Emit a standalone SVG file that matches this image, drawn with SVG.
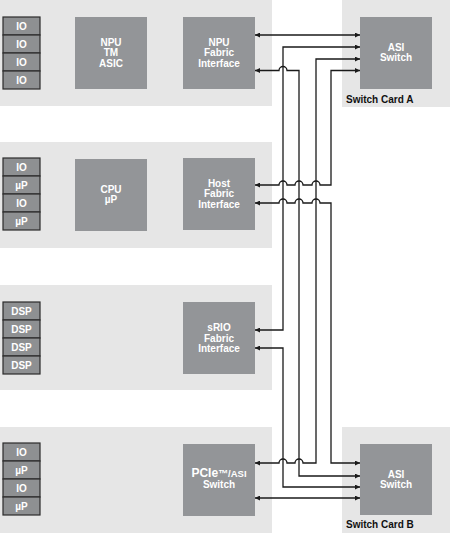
<svg xmlns="http://www.w3.org/2000/svg" width="450" height="533" viewBox="0 0 450 533">
<defs>
<marker id="arr" viewBox="0 0 10 10" refX="10" refY="5" markerWidth="5" markerHeight="5" markerUnits="userSpaceOnUse" orient="auto-start-reverse">
<path d="M0,0 L10,5 L0,10 z" fill="#1a1a1a"/>
</marker>
<style>
.panel{fill:#e6e6e6}
.box{fill:#939598}
.cell{fill:#8e9092;stroke:#2b2b2b;stroke-width:1.2}
.t{font-family:"Liberation Sans",Arial,sans-serif;font-weight:bold;font-size:10px;fill:#ffffff;text-anchor:middle}
.lbl{font-family:"Liberation Sans",Arial,sans-serif;font-weight:bold;font-size:10px;fill:#111111}
.link{fill:none;stroke:#1a1a1a;stroke-width:1.3;marker-start:url(#arr);marker-end:url(#arr)}
</style>
</defs>

<g id="panel-npu">
<rect class="panel" x="0" y="0" width="272" height="106"/>
<rect class="cell" x="3" y="17" width="37" height="18"/>
<rect class="cell" x="3" y="35" width="37" height="18"/>
<rect class="cell" x="3" y="53" width="37" height="18"/>
<rect class="cell" x="3" y="71" width="37" height="18"/>
<text class="t" x="21.5" y="29.5">IO</text>
<text class="t" x="21.5" y="47.5">IO</text>
<text class="t" x="21.5" y="65.5">IO</text>
<text class="t" x="21.5" y="83.5">IO</text>
</g>
<g id="npu-tm-asic">
<rect class="box" x="75" y="17" width="72" height="72"/>
<text class="t" x="111" y="45.7">NPU</text>
<text class="t" x="111" y="56.2">TM</text>
<text class="t" x="111" y="66.7">ASIC</text>
</g>
<g id="npu-fabric">
<rect class="box" x="183" y="17" width="72" height="72"/>
<text class="t" x="219" y="45.7">NPU</text>
<text class="t" x="219" y="56.2">Fabric</text>
<text class="t" x="219" y="66.7">Interface</text>
</g>

<g id="panel-cpu">
<rect class="panel" x="0" y="142" width="272" height="106"/>
<rect class="cell" x="3" y="158" width="37" height="18"/>
<rect class="cell" x="3" y="176" width="37" height="18"/>
<rect class="cell" x="3" y="194" width="37" height="18"/>
<rect class="cell" x="3" y="212" width="37" height="18"/>
<text class="t" x="21.5" y="170.5">IO</text>
<text class="t" x="21.5" y="188.5">µP</text>
<text class="t" x="21.5" y="206.5">IO</text>
<text class="t" x="21.5" y="224.5">µP</text>
</g>
<g id="cpu">
<rect class="box" x="75" y="159" width="72" height="72"/>
<text class="t" x="111" y="192.7">CPU</text>
<text class="t" x="111" y="203.2">µP</text>
</g>
<g id="host-fabric">
<rect class="box" x="183" y="158" width="72" height="72"/>
<text class="t" x="219" y="186.7">Host</text>
<text class="t" x="219" y="197.3">Fabric</text>
<text class="t" x="219" y="207.8">Interface</text>
</g>

<g id="panel-dsp">
<rect class="panel" x="0" y="285" width="272" height="105"/>
<rect class="cell" x="3" y="302" width="37" height="18"/>
<rect class="cell" x="3" y="320" width="37" height="18"/>
<rect class="cell" x="3" y="338" width="37" height="18"/>
<rect class="cell" x="3" y="356" width="37" height="18"/>
<text class="t" x="21.5" y="314.5">DSP</text>
<text class="t" x="21.5" y="332.5">DSP</text>
<text class="t" x="21.5" y="350.5">DSP</text>
<text class="t" x="21.5" y="368.5">DSP</text>
</g>
<g id="srio-fabric">
<rect class="box" x="183" y="302" width="72" height="72"/>
<text class="t" x="219" y="331">sRIO</text>
<text class="t" x="219" y="341.5">Fabric</text>
<text class="t" x="219" y="352">Interface</text>
</g>

<g id="panel-pcie">
<rect class="panel" x="0" y="427" width="272" height="106"/>
<rect class="cell" x="3" y="443" width="37" height="18"/>
<rect class="cell" x="3" y="461" width="37" height="18"/>
<rect class="cell" x="3" y="479" width="37" height="18"/>
<rect class="cell" x="3" y="497" width="37" height="18"/>
<text class="t" x="21.5" y="455.5">IO</text>
<text class="t" x="21.5" y="473.5">µP</text>
<text class="t" x="21.5" y="491.5">IO</text>
<text class="t" x="21.5" y="509.5">µP</text>
</g>
<g id="pcie-switch">
<rect class="box" x="183" y="444" width="72" height="72"/>
<text class="t" x="219" y="477"><tspan font-size="12">PCIe</tspan><tspan font-size="10">™</tspan><tspan font-size="9.5">/ASI</tspan></text>
<text class="t" x="219" y="487.5">Switch</text>
</g>

<g id="switch-card-a">
<rect class="panel" x="342" y="0" width="108" height="107"/>
<rect class="box" x="360" y="17" width="72" height="72"/>
<text class="t" x="396" y="50.7">ASI</text>
<text class="t" x="396" y="61.3">Switch</text>
<text class="lbl" x="346" y="102.7">Switch Card A</text>
</g>

<g id="switch-card-b">
<rect class="panel" x="342" y="427" width="108" height="106"/>
<rect class="box" x="360" y="444" width="72" height="71"/>
<text class="t" x="396" y="477.5">ASI</text>
<text class="t" x="396" y="488">Switch</text>
<text class="lbl" x="346" y="528">Switch Card B</text>
</g>

<g id="connectors">
<path class="link" d="M255,35 H360"/>
<path class="link" d="M255,330 H283 V47 H360"/>
<path class="link" d="M255,463 H279 A4,4 0 0 1 287,463 H295 A4,4 0 0 1 303,463 H316 V59 H360"/>
<path class="link" d="M255,185 H279 A4,4 0 0 1 287,185 H295 A4,4 0 0 1 303,185 H312 A4,4 0 0 1 320,185 H331 V70.5 H360"/>
<path class="link" d="M255,70.5 H279 A4,4 0 0 1 287,70.5 H299 V476 H360"/>
<path class="link" d="M255,203 H279 A4,4 0 0 1 287,203 H295 A4,4 0 0 1 303,203 H312 A4,4 0 0 1 320,203 H331 V463 H360"/>
<path class="link" d="M255,348 H283 V487 H360"/>
<path class="link" d="M255,498 H360"/>
</g>
</svg>
